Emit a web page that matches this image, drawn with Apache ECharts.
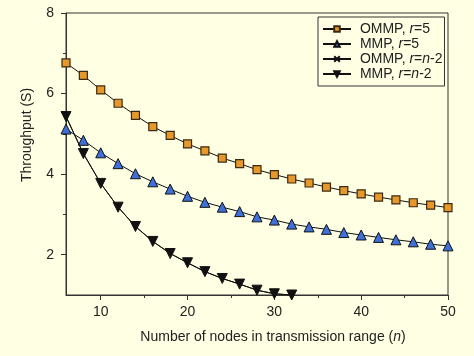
<!DOCTYPE html>
<html><head><meta charset="utf-8">
<script src="https://cdn.jsdelivr.net/npm/echarts@6/dist/echarts.min.js"></script>
<style>html,body{margin:0;padding:0;background:#FFFFE4;}#c{width:474px;height:356px;}</style>
</head><body><div id="c"></div>
<script>
var xR5 = [6,8,10,12,14,16,18,20,22,24,26,28,30,32,34,36,38,40,42,44,46,48,50];
var ommpR5 = [6.76,6.45,6.09,5.76,5.46,5.18,4.96,4.75,4.58,4.40,4.26,4.11,3.99,3.88,3.78,3.68,3.59,3.51,3.43,3.36,3.29,3.23,3.17];
var mmpR5 = [5.12,4.84,4.53,4.26,4.01,3.81,3.63,3.45,3.30,3.18,3.07,2.94,2.86,2.76,2.69,2.63,2.55,2.49,2.43,2.37,2.32,2.26,2.22];
var xN2 = [6,8,10,12,14,16,18,20,22,24,26,28,30,32];
var mmpN2 = [5.43,4.51,3.77,3.18,2.70,2.33,2.03,1.80,1.58,1.41,1.27,1.12,1.03,1.0];
var ommpN2 = [5.43,4.51,3.77,3.18,2.70,2.33,2.03,1.80,1.58,1.41,1.27,1.12,1.03,1.0];
var yTicks = [2,4,6,8];
var yMinor = [3,5,7];
var xTicks = [10,20,30,40,50];
var xMinor = [15,25,35,45];
var names = ['OMMP, r=5','MMP, r=5','OMMP, r=n-2','MMP, r=n-2'];

function pairs(xs, ys){ return xs.map(function(x,i){return [x, ys[i]];}); }
var font = '"Liberation Sans", Arial, sans-serif';
var txt = '#222';
var FS = 14;
var chart = echarts.init(document.getElementById('c'));
var richLegend = {i:{fontStyle:'italic', fontSize:FS, fontFamily:font, color:txt, lineHeight:14}};
chart.setOption({
  backgroundColor:'#FFFFE4',
  animation:false,
  grid:{left:66,right:26,top:13,bottom:61,show:true,borderColor:'#333',borderWidth:1,backgroundColor:'transparent'},
  legend:{
    orient:'vertical', left:318, top:17,
    padding:[5,2,5,4], itemGap:1, itemWidth:28, itemHeight:7,
    borderColor:'#333', borderWidth:1, backgroundColor:'#FFFFE4',
    data:names,
    textStyle:{fontFamily:font,fontSize:FS,color:txt,lineHeight:14,rich:richLegend},
    formatter:function(n){
      if(n===names[0]) return ' OMMP, {i|r}=5';
      if(n===names[1]) return ' MMP, {i|r}=5';
      if(n===names[2]) return ' OMMP, {i|r}={i|n}-2';
      return ' MMP, {i|r}={i|n}-2';
    }
  },
  xAxis:[{
    type:'value', min:6, max:50,
    name:'Number of nodes in transmission range ({i|n})', nameLocation:'middle', nameGap:35,
    nameTextStyle:{fontFamily:font,fontSize:FS,color:txt,padding:[0,0,0,32],rich:{i:{fontStyle:'italic',fontFamily:font,fontSize:FS,color:txt}}},
    axisLine:{lineStyle:{color:'#333',width:1}},
    axisTick:{show:true,length:5,inside:false,customValues:xTicks,lineStyle:{color:'#333'}},
    axisLabel:{customValues:xTicks,margin:10,fontFamily:font,fontSize:FS,color:txt},
    splitLine:{show:false}
  },{
    type:'value', min:6, max:50, position:'bottom',
    axisLine:{show:false},
    axisTick:{show:true,length:3,customValues:xMinor,lineStyle:{color:'#333'}},
    axisLabel:{show:false}, splitLine:{show:false}
  }],
  yAxis:[{
    type:'value', min:1, max:8,
    name:'Throughput (S)', nameLocation:'middle', nameGap:32,
    nameTextStyle:{fontFamily:font,fontSize:FS,color:txt,padding:[0,0,0,38]},
    axisLine:{show:true,lineStyle:{color:'#333',width:1}},
    axisTick:{show:true,length:5,customValues:yTicks,lineStyle:{color:'#333'}},
    axisLabel:{customValues:yTicks,margin:12,fontFamily:font,fontSize:FS,color:txt},
    splitLine:{show:false}
  },{
    type:'value', min:1, max:8, position:'left',
    axisLine:{show:false},
    axisTick:{show:true,length:3,customValues:yMinor,lineStyle:{color:'#333'}},
    axisLabel:{show:false}, splitLine:{show:false}
  }],
  series:[
    {name:names[0],type:'line',data:pairs(xR5,ommpR5),symbol:'rect',symbolSize:8,
     lineStyle:{color:'#111',width:1},itemStyle:{color:'#E8982A',borderColor:'#3a2a10',borderWidth:1.2},z:3},
    {name:names[1],type:'line',data:pairs(xR5,mmpR5),symbol:'triangle',symbolSize:10,
     lineStyle:{color:'#111',width:1},itemStyle:{color:'#3F6FD8',borderColor:'#111',borderWidth:1},z:3},
    {name:names[2],type:'line',data:pairs(xN2,ommpN2),symbol:'path://M0,0L10,10M10,0L0,10',symbolSize:3,
     lineStyle:{color:'#111',width:1},itemStyle:{color:'none',borderColor:'#111',borderWidth:1},z:2},
    {name:names[3],type:'line',data:pairs(xN2,mmpN2),symbol:'triangle',symbolRotate:180,symbolSize:10,
     lineStyle:{color:'#111',width:1},itemStyle:{color:'#111',borderColor:'#111',borderWidth:1},z:4}
  ]
});
</script></body></html>
